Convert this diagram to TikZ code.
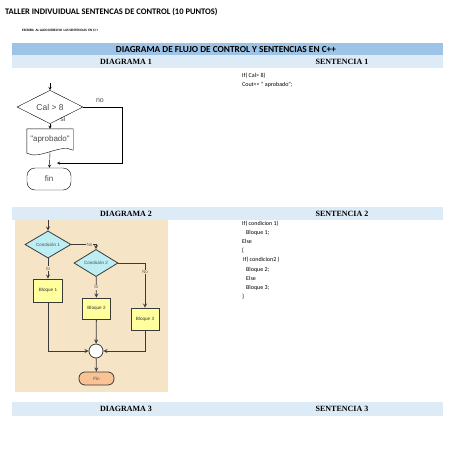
\documentclass[tikz,border=0pt]{standalone}
\usepackage{fontspec}
\setmainfont{Carlito}
\newfontfamily\headserif{Liberation Serif}
\newfontfamily\chartsans{Liberation Sans}
\usetikzlibrary{shapes.geometric,positioning}

\definecolor{bandblue}{HTML}{9DC3E6}
\definecolor{bandlight}{HTML}{DDEBF7}
\definecolor{chartbg}{HTML}{F6E4C6}
\definecolor{condcyan}{HTML}{BDEEF4}
\definecolor{blockyel}{HTML}{FFFF9E}
\definecolor{finpeach}{HTML}{F9C393}
\definecolor{chartink}{HTML}{3A3A3A}

\tikzset{
  titletext/.style={font=\bfseries\fontsize{8.5}{9}\selectfont, inner sep=0pt},
  subtext/.style={font=\bfseries\fontsize{3.4}{4}\selectfont, inner sep=0pt},
  headtext/.style={font=\bfseries\fontsize{9.3}{10}\selectfont, inner sep=0pt},
  bandtext/.style={font=\headserif\bfseries\fontsize{8}{9}\selectfont, inner sep=0pt},
  codetext/.style={font=\fontsize{6}{9.1}\selectfont, align=left, inner sep=0pt},
  % diagram 1
  calcheck/.style={diamond, draw, inner sep=0pt, minimum width=66pt, minimum height=27pt,
    font=\chartsans\fontsize{8.5}{9}\selectfont, text=black!70},
  docbox/.style={inner sep=0pt, minimum width=46pt, minimum height=20pt,
    font=\chartsans\fontsize{8}{9}\selectfont, text=black!70},
  endone/.style={draw, rounded corners=8pt, inner sep=0pt, minimum width=44pt, minimum height=22pt,
    font=\chartsans\fontsize{8}{9}\selectfont, text=black!70},
  flowlabel/.style={font=\chartsans\fontsize{7}{8}\selectfont, text=black!70, inner sep=0pt},
  % diagram 2
  conddec/.style={diamond, draw=chartink, fill=condcyan, inner sep=0pt,
    font=\chartsans\fontsize{4.5}{5}\selectfont, text=black!70},
  blockbox/.style={draw=chartink, fill=blockyel, inner sep=0pt,
    font=\chartsans\fontsize{4.6}{5}\selectfont, text=black!80},
  joint/.style={circle, draw=chartink, fill=white, inner sep=0pt, minimum size=14pt},
  endtwo/.style={draw=chartink, fill=finpeach, rounded corners=6pt, inner sep=0pt,
    minimum width=35pt, minimum height=13pt, font=\chartsans\fontsize{4.6}{5}\selectfont, text=black!70},
  flowtag/.style={font=\chartsans\fontsize{4.6}{5}\selectfont, text=black!60, fill=chartbg, inner sep=0.6pt},
}

\begin{document}
\begin{tikzpicture}[x=1pt, y=-1pt, >=stealth]
  \useasboundingbox (0,0) rectangle (453,453);
  \fill[white] (0,0) rectangle (453,453);
  % Title lines
  \node[titletext, anchor=west] (title) at (5,12) {TALLER INDIVUIDUAL SENTENCAS DE CONTROL (10 PUNTOS)};
  \node[subtext, anchor=west] (hint) at (22,30) {ESCRIBA\ \ AL LADO DERECHO\ \ LAS SENTENCIAS\ \ EN C++};
  % Header bands
  \fill[bandblue] (12,43) rectangle (443,55);
  \node[headtext] (head) at (226,49.5) {DIAGRAMA DE FLUJO DE CONTROL Y SENTENCIAS EN C++};
  \fill[bandlight] (12,55) rectangle (443,68);
  \node[bandtext] (diagone) at (126,61.5) {DIAGRAMA 1};
  \node[bandtext] (sentone) at (342,61.5) {SENTENCIA 1};
  \node[codetext, anchor=north west] (codeone) at (242,72.5) {If( Cal> 8)\\Cout<{}< " aprobado";};

  % Diagram 1
  \coordinate (startone) at (50,83);
  \node[calcheck] (cal) at (50,107) {Cal > 8};
  \node[docbox] (aprob) at (50,139) {\textquotedbl aprobado\textquotedbl};
  \node[endone] (finone) at (49,179) {fin};
  \coordinate (turnone) at (122,163);
  \coordinate (joinone) at (57,163);
  \draw (aprob.north west) -- (aprob.north east) -- ([yshift=-1pt]aprob.south east)
    .. controls +(-13,-7) and +(13,7) .. ([yshift=-4pt]aprob.south west) -- cycle;
  \draw[->] (startone) -- (cal);
  \draw[->] (cal) -- (aprob);
  \draw[->] ([yshift=-3pt]aprob.south) -- (finone);
  \draw[->] (cal.east) -| (turnone) -- (joinone);
  \node[flowlabel] (lblno) at (100,101) {no};
  \node[flowlabel] (lblsi) at (63,119) {si};

  % Row 2 band
  \fill[bandlight] (12,207) rectangle (443,220);
  \node[bandtext] (diagtwo) at (126,213.5) {DIAGRAMA 2};
  \node[bandtext] (senttwo) at (342,213.5) {SENTENCIA 2};
  \node[codetext, anchor=north west] (codetwo) at (242,221) {If( condicion 1)\\
    \hspace*{4pt}Bloque 1;\\
    Else\\
    \{\\
    \hspace*{1pt}If( condicion2 )\\
    \hspace*{4pt}Bloque 2;\\
    \hspace*{4pt}Else\\
    \hspace*{4pt}Bloque 3;\\
    \}};

  % Diagram 2
  \fill[chartbg] (15,220) rectangle (168,392);
  \begin{scope}[draw=chartink, line width=0.8pt]
    \coordinate (starttwo) at (48,220);
    \node[conddec, minimum width=46pt, minimum height=17pt] (condone) at (48,244.5) {Condición 1};
    \node[conddec, minimum width=44pt, minimum height=20pt] (condtwo) at (96,263) {Condición 2};
    \node[blockbox, minimum width=29pt, minimum height=23pt] (blkone) at (48,290.5) {Bloque 1};
    \node[blockbox, minimum width=28pt, minimum height=21pt] (blktwo) at (96.5,308.5) {Bloque 2};
    \node[blockbox, minimum width=28pt, minimum height=22pt] (blkthree) at (145,319) {Bloque 3};
    \node[joint] (merge) at (96,351) {};
    \node[endtwo] (fintwo) at (96.5,378.5) {Fin};
    \draw[->] (starttwo) -- (condone);
    \draw[->] (condone.east) -| node[flowtag, pos=0.37] {No} (condtwo.north);
    \draw[->] (condone) -- node[flowtag] {Si} (blkone);
    \draw[->] (condtwo) -- node[flowtag] {Si} (blktwo);
    \draw[->] (condtwo.east) -| node[flowtag, pos=0.6] {No} (blkthree);
    \draw[->] (blkone) |- (merge);
    \draw[->] (blktwo) -- (merge);
    \draw[->] (blkthree) |- (merge);
    \draw[->] (merge) -- (fintwo);
  \end{scope}

  % Row 3 band
  \fill[bandlight] (12,402) rectangle (443,416);
  \node[bandtext] (diagthree) at (126,409) {DIAGRAMA 3};
  \node[bandtext] (sentthree) at (342,409) {SENTENCIA 3};
\end{tikzpicture}
\end{document}
